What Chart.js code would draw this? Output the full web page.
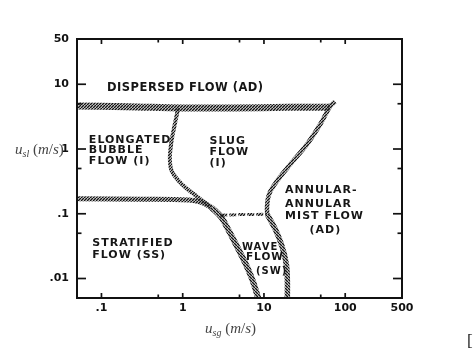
<!DOCTYPE html>
<html>
<head>
<meta charset="utf-8">
<script src="https://cdn.jsdelivr.net/npm/chart.js@4.4.1/dist/chart.umd.min.js"></script>
<style>
  html, body { margin: 0; padding: 0; background: #fff; }
  #wrap { position: relative; width: 474px; height: 358px; overflow: hidden; }
  canvas { position: absolute; left: 0; top: 0; }
  .ttl { position: absolute; font-family: "Liberation Serif", "DejaVu Serif", serif; font-size: 15px; color: #444; white-space: nowrap; line-height: 1; }
  .ttl i { font-style: italic; }
  .ttl sub { font-size: 10px; font-style: italic; vertical-align: -3px; line-height: 0; }
  #corner { position: absolute; left: 467px; top: 332px; font-family: "Liberation Serif", serif; font-size: 17px; color: #222; line-height: 1; }
</style>
</head>
<body>
<div id="wrap">
  <canvas id="c" width="474" height="358"></canvas>
  <div class="ttl" id="ytitle" style="left:15px; top:142px;"><i>u</i><sub>sl</sub> (<i>m</i>/<i>s</i>)</div>
  <div class="ttl" id="xtitle" style="left:205px; top:321px;"><i>u</i><sub>sg</sub> (<i>m</i>/<i>s</i>)</div>
  <div id="corner">[</div>
</div>
<script>
// ---- axis ticks ----
const xTickValues = [0.1, 0.5, 1, 5, 10, 50, 100, 500];
const xTickLabels = ['.1', '', '1', '', '10', '', '100', '500'];
const yTickValues = [0.01, 0.05, 0.1, 0.5, 1, 5, 10, 50];
const yTickLabels = ['.01', '', '.1', '', '1', '', '10', '50'];

// ---- boundary curves (u_sg, u_sl in m/s) ----
const dispersedX = [0.05, 0.2, 1, 4, 20, 65];
const dispersedY = [4.6, 4.5, 4.3, 4.3, 4.4, 4.4];

const slugAnnularX = [75, 65, 49.5, 34, 21.3, 14.6, 11.6, 10.9, 11.0];
const slugAnnularY = [5.4, 4.55, 2.43, 1.19, 0.588, 0.325, 0.203, 0.126, 0.0975];

const waveAnnularX = [11.0, 14.0, 16.8, 18.8, 19.4, 19.4];
const waveAnnularY = [0.0975, 0.0554, 0.0306, 0.017, 0.0094, 0.005];

const bubbleSlugX = [0.88, 0.80, 0.73, 0.695, 0.73, 0.967, 1.54, 2.25];
const bubbleSlugY = [4.31, 2.43, 1.34, 0.743, 0.464, 0.29, 0.18, 0.126];

const stratWaveX = [2.25, 2.98, 3.5, 4.7, 6.2, 7.24, 8.49];
const stratWaveY = [0.126, 0.0887, 0.0622, 0.0306, 0.0151, 0.0094, 0.005];

const stratIntX = [0.05, 0.3, 1.2, 1.7, 2.25];
const stratIntY = [0.17, 0.168, 0.163, 0.15, 0.126];

const waveSlugX = [2.9, 5, 10.9];
const waveSlugY = [0.095, 0.097, 0.098];

// ---- region labels ----
const regionLabels = [
  { text: 'DISPERSED FLOW (AD)', x: 0.117, y: 8.6, size: 11.5, align: 'left' },
  { text: 'ELONGATED', x: 0.070, y: 1.39, size: 11, align: 'left' },
  { text: 'BUBBLE', x: 0.070, y: 0.965, size: 11, align: 'left' },
  { text: 'FLOW (I)', x: 0.070, y: 0.644, size: 11, align: 'left' },
  { text: 'SLUG', x: 2.14, y: 1.31, size: 11, align: 'left' },
  { text: 'FLOW', x: 2.14, y: 0.887, size: 11, align: 'left' },
  { text: '(I)', x: 2.14, y: 0.60, size: 11, align: 'left' },
  { text: 'ANNULAR-', x: 18.2, y: 0.228, size: 11, align: 'left' },
  { text: 'ANNULAR', x: 18.2, y: 0.1426, size: 11, align: 'left' },
  { text: 'MIST FLOW', x: 18.2, y: 0.0909, size: 11, align: 'left' },
  { text: '(AD)', x: 57.0, y: 0.0568, size: 11, align: 'center' },
  { text: 'STRATIFIED', x: 0.077, y: 0.0358, size: 11, align: 'left' },
  { text: 'FLOW (SS)', x: 0.077, y: 0.0228, size: 11, align: 'left' },
  { text: 'WAVE', x: 5.37, y: 0.030, size: 10, align: 'left' },
  { text: 'FLOW', x: 6.0, y: 0.0215, size: 10.5, align: 'left' },
  { text: '(SW)', x: 7.96, y: 0.0129, size: 10, align: 'left' }
];

const pts = (xs, ys) => xs.map((v, i) => ({ x: v, y: ys[i] }));

function hatch(dir, color, s, w) {
  const c = document.createElement('canvas');
  c.width = s; c.height = s;
  const g = c.getContext('2d');
  g.strokeStyle = color; g.lineWidth = w;
  g.beginPath();
  for (const k of [-s, 0, s]) {
    if (dir === '/') { g.moveTo(k, s); g.lineTo(k + s, 0); }
    else { g.moveTo(k, 0); g.lineTo(k + s, s); }
  }
  g.stroke();
  return g.createPattern(c, 'repeat');
}
const hatchF = hatch('/', '#111', 3, 1.5);
const hatchB = hatch('\\', '#111', 3, 1.5);

function band(data, pattern, width, extra) {
  return Object.assign({
    data, showLine: true, borderColor: pattern, borderWidth: width,
    pointRadius: 0, pointHoverRadius: 0, fill: false, tension: 0.35,
    borderCapStyle: 'butt', borderJoinStyle: 'round'
  }, extra || {});
}

const framePlugin = {
  id: 'frame',
  afterDatasetsDraw(chart) {
    const { ctx, chartArea: a, scales: { x, y } } = chart;
    ctx.save();
    ctx.strokeStyle = '#111';
    ctx.lineWidth = 1.7;
    const seg = (x1, y1, x2, y2) => { ctx.beginPath(); ctx.moveTo(x1, y1); ctx.lineTo(x2, y2); ctx.stroke(); };
    xTickValues.forEach((v, i) => {
      const px = x.getPixelForValue(v);
      const len = xTickLabels[i] ? 5 : 3.5;
      seg(px, a.bottom, px, a.bottom - len);
      seg(px, a.top, px, a.top + len);
    });
    yTickValues.forEach((v, i) => {
      const py = y.getPixelForValue(v);
      const len = yTickLabels[i] ? 9 : 4.5;
      seg(a.left, py, a.left + len, py);
      seg(a.right, py, a.right - len, py);
    });
    ctx.lineWidth = 2;
    ctx.strokeRect(a.left, a.top, a.right - a.left, a.bottom - a.top);

    ctx.fillStyle = '#161616';
    ctx.textBaseline = 'middle';
    regionLabels.forEach(l => {
      ctx.font = 'bold ' + l.size + 'px "DejaVu Sans", sans-serif';
      if ('letterSpacing' in ctx) ctx.letterSpacing = l.size > 11 ? '0.5px' : '1px';
      ctx.textAlign = l.align;
      ctx.fillText(l.text, x.getPixelForValue(l.x), y.getPixelForValue(l.y));
    });
    ctx.restore();
  }
};

new Chart(document.getElementById('c'), {
  type: 'scatter',
  data: {
    datasets: [
      band(pts(dispersedX, dispersedY), hatchF, 7),
      band(pts(slugAnnularX, slugAnnularY), hatchF, 4.5),
      band(pts(waveAnnularX, waveAnnularY), hatchB, 5.5),
      band(pts(bubbleSlugX, bubbleSlugY), hatchF, 4),
      band(pts(stratWaveX, stratWaveY), hatchB, 6),
      band(pts(stratIntX, stratIntY), hatchF, 5),
      band(pts(waveSlugX, waveSlugY), hatchF, 3, { borderDash: [7, 2], tension: 0 })
    ]
  },
  options: {
    responsive: false,
    animation: false,
    events: [],
    layout: { padding: { left: 0, right: 72, top: 39, bottom: 0 } },
    plugins: { legend: { display: false }, tooltip: { enabled: false } },
    scales: {
      x: {
        type: 'logarithmic', min: 0.05, max: 500,
        grid: { display: false, drawTicks: false },
        border: { display: false },
        afterBuildTicks: s => { s.ticks = xTickValues.map(v => ({ value: v })); },
        afterFit: s => { s.height = 60; },
        ticks: {
          autoSkip: false, maxRotation: 0, padding: 4, color: '#111',
          font: { family: '"DejaVu Sans", sans-serif', size: 11, weight: 'bold' },
          callback: (v, i) => xTickLabels[i]
        }
      },
      y: {
        type: 'logarithmic', min: 0.005, max: 50,
        grid: { display: false, drawTicks: false },
        border: { display: false },
        afterBuildTicks: s => { s.ticks = yTickValues.map(v => ({ value: v })); },
        afterFit: s => { s.width = 77; },
        ticks: {
          autoSkip: false, padding: 8, color: '#111',
          font: { family: '"DejaVu Sans", sans-serif', size: 11, weight: 'bold' },
          callback: (v, i) => yTickLabels[i]
        }
      }
    }
  },
  plugins: [framePlugin]
});
</script>
</body>
</html>
